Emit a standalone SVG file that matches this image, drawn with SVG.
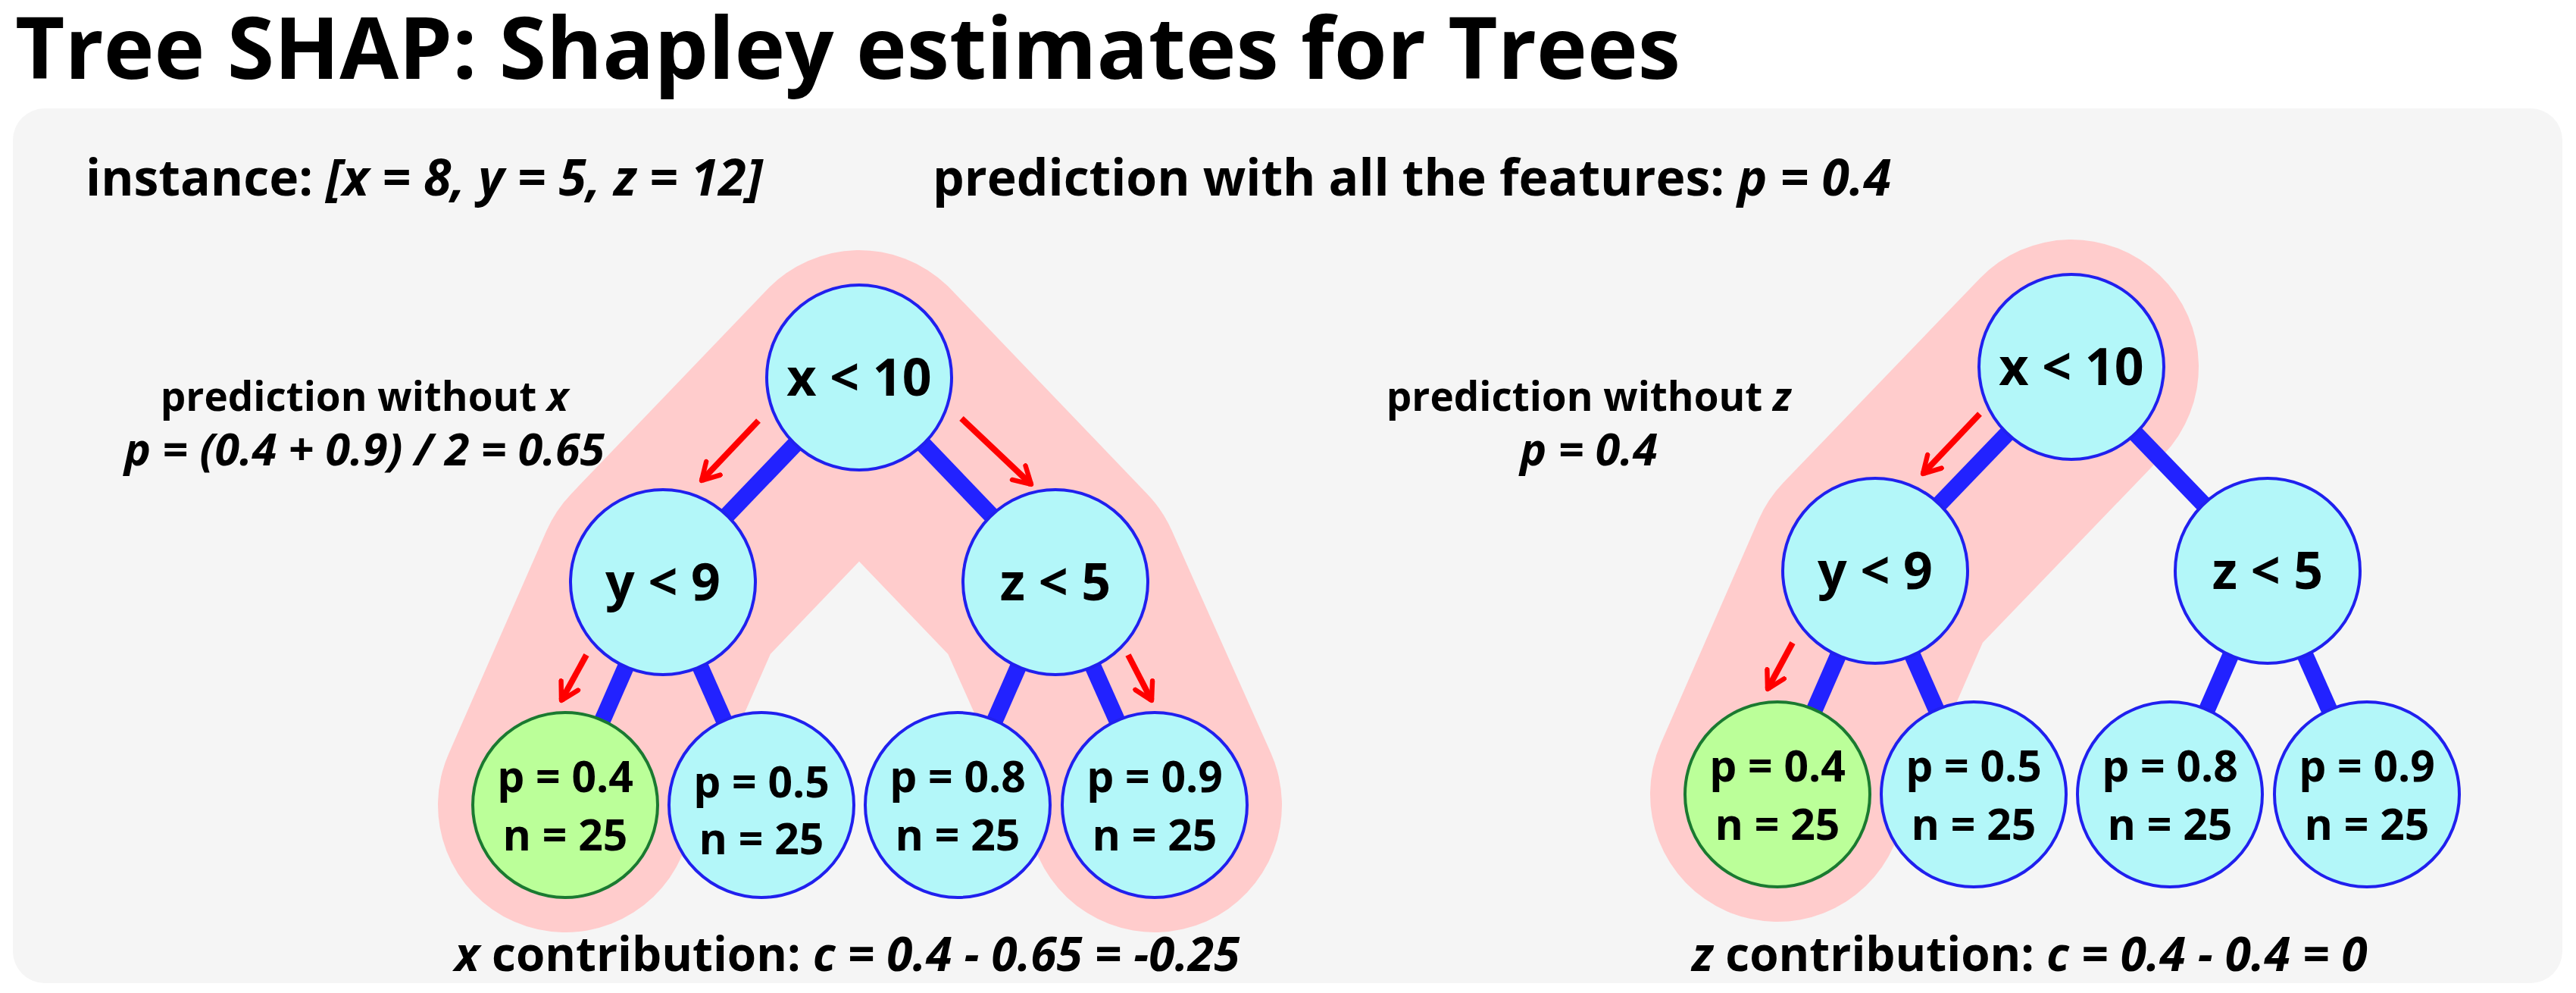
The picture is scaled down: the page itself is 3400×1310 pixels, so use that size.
<svg xmlns="http://www.w3.org/2000/svg" width="3400" height="1310" viewBox="0 0 3400 1310">
<style>
text{font-family:"Open Sans","Liberation Sans",sans-serif;font-weight:bold;fill:#000}
.t{font-size:113px}
.h{font-size:66px}
.k{font-size:62px}
.n{font-size:68px;text-anchor:middle}
.l{font-size:57px;text-anchor:middle}
.c{font-size:53px;text-anchor:middle}
.i{font-style:italic}
.node{fill:#b3f7f9;stroke:#2020ee;stroke-width:4}
.leafg{fill:#bbff99;stroke:#1a7a30;stroke-width:4}
.hl{fill:none;stroke:#ffcccc;stroke-width:336;stroke-linecap:round;stroke-linejoin:round}
.e{stroke:#2222ff;stroke-width:22}
.a{stroke:#ff0000;stroke-width:8;fill:none;marker-end:url(#ah)}
</style>
<defs>
<marker id="ah" viewBox="0 0 10 10" refX="8" refY="5" markerWidth="4" markerHeight="4" orient="auto" markerUnits="strokeWidth">
<path d="M1,1 L8,5 L1,9" fill="none" stroke="#ff0000" stroke-width="2" stroke-linecap="round" stroke-linejoin="round"/>
</marker>
</defs>
<rect width="3400" height="1310" fill="#ffffff"/>
<text class="t" x="20" y="104">Tree SHAP: Shapley estimates for Trees</text>
<rect x="17" y="143" width="3365" height="1154" rx="42" fill="#f5f5f5"/>
<text class="h" x="113" y="258">instance: <tspan class="i">[x = 8, y = 5, z = 12]</tspan></text>
<text class="h" x="1231" y="258">prediction with all the features: <tspan class="i">p = 0.4</tspan></text>
<text class="c" x="481" y="542">prediction without <tspan class="i">x</tspan></text>
<text class="c i" x="481" y="614" style="font-size:59px">p = (0.4 + 0.9) / 2 = 0.65</text>
<text class="c" x="2097" y="542">prediction without <tspan class="i">z</tspan></text>
<text class="c i" x="2097" y="614" style="font-size:59px">p = 0.4</text>
<text class="k" x="600" y="1281"><tspan class="i">x</tspan> contribution: <tspan class="i">c = 0.4 - 0.65 = -0.25</tspan></text>
<text class="k" x="2233" y="1281"><tspan class="i">z</tspan> contribution: <tspan class="i">c = 0.4 - 0.4 = 0</tspan></text>
<g id="highlights">
<polyline class="hl" points="746,1062 875,768 1134,498 1393,768 1524,1062"/>
<polyline class="hl" points="2346,1048 2475,753 2734,484"/>
</g>
<g id="connectors">
<line class="e" x1="1134" y1="498" x2="875" y2="768"/>
<line class="e" x1="1134" y1="498" x2="1393" y2="768"/>
<line class="e" x1="875" y1="768" x2="746" y2="1062"/>
<line class="e" x1="875" y1="768" x2="1005" y2="1062"/>
<line class="e" x1="1393" y1="768" x2="1264" y2="1062"/>
<line class="e" x1="1393" y1="768" x2="1524" y2="1062"/>
<line class="e" x1="2734" y1="484" x2="2475" y2="753"/>
<line class="e" x1="2734" y1="484" x2="2993" y2="753"/>
<line class="e" x1="2475" y1="753" x2="2346" y2="1048"/>
<line class="e" x1="2475" y1="753" x2="2605" y2="1048"/>
<line class="e" x1="2993" y1="753" x2="2864" y2="1048"/>
<line class="e" x1="2993" y1="753" x2="3124" y2="1048"/>
<line class="a" x1="1001" y1="555" x2="926" y2="634"/>
<line class="a" x1="1269" y1="552" x2="1361" y2="639"/>
<line class="a" x1="774" y1="864" x2="741" y2="924"/>
<line class="a" x1="1489" y1="864" x2="1520" y2="924"/>
<line class="a" x1="2613" y1="546" x2="2538" y2="625"/>
<line class="a" x1="2366" y1="848" x2="2333" y2="909"/>
</g>
<g id="L_root"><circle class="node" cx="1134" cy="498" r="122"/><text class="n" x="1134" y="522">x &lt; 10</text></g>
<g id="L_y"><circle class="node" cx="875" cy="768" r="122"/><text class="n" x="875" y="792">y &lt; 9</text></g>
<g id="L_z"><circle class="node" cx="1393" cy="768" r="122"/><text class="n" x="1393" y="792">z &lt; 5</text></g>
<g id="L_l1"><circle class="leafg" cx="746" cy="1062" r="122"/><text class="l" x="746" y="1045">p = 0.4</text><text class="l" x="746" y="1122">n = 25</text></g>
<g id="L_l2"><circle class="node" cx="1005" cy="1062" r="122"/><text class="l" x="1005" y="1052">p = 0.5</text><text class="l" x="1005" y="1127">n = 25</text></g>
<g id="L_l3"><circle class="node" cx="1264" cy="1062" r="122"/><text class="l" x="1264" y="1045">p = 0.8</text><text class="l" x="1264" y="1122">n = 25</text></g>
<g id="L_l4"><circle class="node" cx="1524" cy="1062" r="122"/><text class="l" x="1524" y="1045">p = 0.9</text><text class="l" x="1524" y="1122">n = 25</text></g>
<g id="R_root"><circle class="node" cx="2734" cy="484" r="122"/><text class="n" x="2734" y="508">x &lt; 10</text></g>
<g id="R_y"><circle class="node" cx="2475" cy="753" r="122"/><text class="n" x="2475" y="777">y &lt; 9</text></g>
<g id="R_z"><circle class="node" cx="2993" cy="753" r="122"/><text class="n" x="2993" y="777">z &lt; 5</text></g>
<g id="R_l1"><circle class="leafg" cx="2346" cy="1048" r="122"/><text class="l" x="2346" y="1031">p = 0.4</text><text class="l" x="2346" y="1108">n = 25</text></g>
<g id="R_l2"><circle class="node" cx="2605" cy="1048" r="122"/><text class="l" x="2605" y="1031">p = 0.5</text><text class="l" x="2605" y="1108">n = 25</text></g>
<g id="R_l3"><circle class="node" cx="2864" cy="1048" r="122"/><text class="l" x="2864" y="1031">p = 0.8</text><text class="l" x="2864" y="1108">n = 25</text></g>
<g id="R_l4"><circle class="node" cx="3124" cy="1048" r="122"/><text class="l" x="3124" y="1031">p = 0.9</text><text class="l" x="3124" y="1108">n = 25</text></g>
</svg>
